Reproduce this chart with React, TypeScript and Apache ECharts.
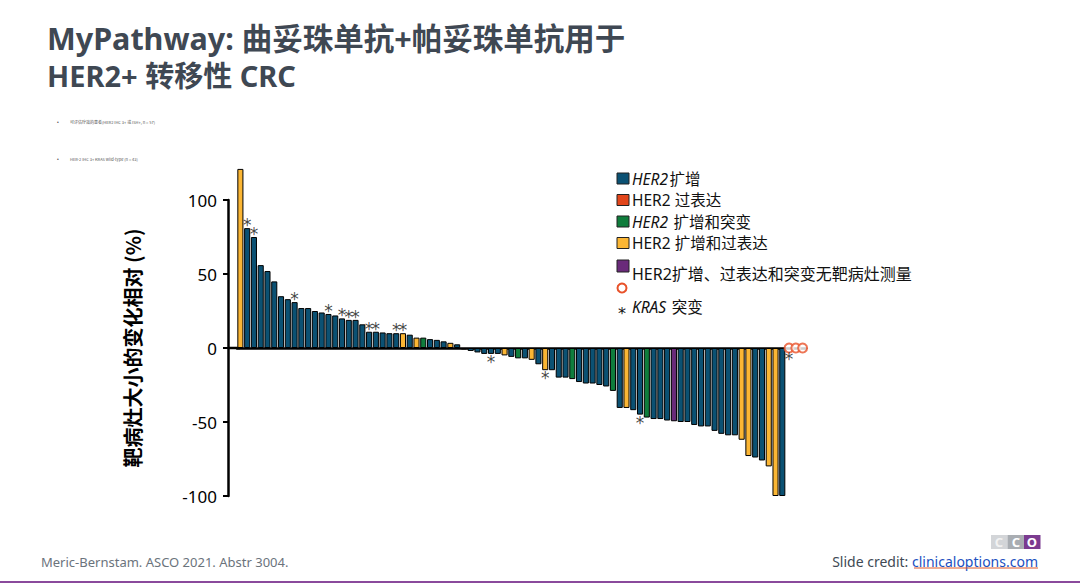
import React, { useEffect, useRef } from "react";
import * as echarts from "echarts";

// Change in target lesion size (%) per patient, sorted (waterfall). null = no target lesion measurement
const patientChange: (number | null)[] = [
  121, 81, 75, 56, 52, 45, 35, 33, 31, 27, 27, 25, 24, 23, 22, 20, 19, 19, 16, 11,
  11, 10.5, 10, 10, 10, 9, 7, 7, 6, 5.5, 4.5, 3.5, 2.5, -1, -2, -3, -4, -4, -4, -5,
  -6, -7, -7, -8, -11, -15, -15, -20, -20, -21, -23, -24, -24, -25, -26, -29, -40.5, -40.5, -42, -45,
  -47, -48, -48, -49, -49.5, -50, -50, -52, -53, -53, -56, -58, -59, -59, -62, -73, -74, -76, -80, -100,
  -100, null, null, null,
];

// A = HER2 amplification, O = HER2 overexpression, M = amplification + mutation,
// Y = amplification + overexpression, P = amp/overexp/mutation, N = no target lesion measured
const patientGroup: string[] = [
  "Y", "A", "A", "A", "A", "A", "A", "A", "A", "A", "A", "A", "A", "A", "A", "A", "A", "A", "A", "A",
  "A", "A", "A", "A", "Y", "A", "Y", "M", "A", "A", "A", "Y", "A", "A", "A", "A", "A", "A", "A", "Y",
  "A", "M", "A", "Y", "A", "Y", "A", "A", "A", "M", "A", "A", "A", "A", "A", "M", "A", "Y", "A", "A",
  "M", "A", "A", "A", "P", "A", "A", "A", "A", "A", "A", "A", "A", "A", "Y", "Y", "A", "A", "Y", "Y",
  "A", "N", "N", "N",
];

// patients (1-based) with KRAS mutation
const krasMutated: number[] = [2, 3, 9, 14, 16, 17, 18, 20, 21, 24, 25, 38, 46, 60, 82];

const yTicks = { min: -100, max: 100, interval: 50 };

// legend rows: [italic part, regular part]
const legendItems = [
  { key: "A", italic: "HER2", rest: "扩增" },
  { key: "O", italic: "", rest: "HER2 过表达" },
  { key: "M", italic: "HER2", rest: " 扩增和突变" },
  { key: "Y", italic: "", rest: "HER2 扩增和过表达" },
];
const legendPurpleText = "HER2扩增、过表达和突变无靶病灶测量";
const legendKras = { italic: "KRAS", rest: " 突变" };

const titleLines = ["MyPathway: 曲妥珠单抗+帕妥珠单抗用于", "HER2+ 转移性 CRC"];
const yAxisName = "靶病灶大小的变化相对 (%)";
const footnote = "Meric-Bernstam. ASCO 2021. Abstr 3004.";
const bulletTexts = ["可评估疗效的患者(HER2 IHC 3+ 或 ISH+, n = 57)", "HER-2 IHC 3+ KRAS wild-type (n = 43)"];

const COLORS: Record<string, string> = {
  A: "#0b5173",
  O: "#e2461b",
  M: "#0f7d3c",
  Y: "#fbb634",
  P: "#6a2a7a",
};
const CIRCLE = "#e8522a";
const FONT = "'Noto Sans', 'Noto Sans CJK SC', sans-serif";
const CJK = "'Noto Sans CJK SC', 'Noto Sans', sans-serif";
const LEG_SIZE = 15.5;

function measure(text: string, font: string): number {
  const c = document.createElement("canvas");
  const ctx = c.getContext("2d");
  if (!ctx) return text.length * 9;
  ctx.font = font;
  return ctx.measureText(text).width;
}

export default function App() {
  const ref = useRef<HTMLDivElement>(null);
  useEffect(() => {
    if (!ref.current) return;
    const chart = echarts.init(ref.current, undefined, { renderer: "svg" });
    const categories = patientChange.map((_, i) => String(i + 1));

    const barData = patientChange.map((v, i) =>
      v === null
        ? null
        : { value: v, itemStyle: { color: COLORS[patientGroup[i]] || COLORS.A } }
    );
    const circleData = patientChange
      .map((v, i) => (patientGroup[i] === "N" ? [categories[i], 0] : null))
      .filter((d) => d !== null);
    const krasData = krasMutated.map((p) => {
      const v = patientChange[p - 1];
      const val = v === null ? 0 : v;
      const below = v === null || val < 0;
      return {
        value: [categories[p - 1], val],
        label: {
          position: below ? "bottom" : "top",
          distance: v === null ? 2 : below ? -1 : -6,
        },
      };
    });

    const italicFont = `italic ${LEG_SIZE}px ${FONT}`;
    const legendGraphics: any[] = [];
    const rowY = [178.5, 200, 221.5, 243];
    const addMixed = (x: number, y: number, italic: string, rest: string) => {
      let cx = x;
      if (italic) {
        legendGraphics.push({
          type: "text",
          x: cx,
          y,
          style: { text: italic, fontSize: LEG_SIZE, lineHeight: 17, fontStyle: "italic", fontFamily: FONT, fill: "#111", verticalAlign: "middle" },
        });
        cx += measure(italic, italicFont) + 1.5;
      }
      legendGraphics.push({
        type: "text",
        x: cx,
        y,
        style: { text: rest, fontSize: LEG_SIZE, lineHeight: 17, fontFamily: FONT, fill: "#111", verticalAlign: "middle" },
      });
    };
    legendItems.forEach((it, k) => {
      legendGraphics.push({
        type: "rect",
        shape: { x: 617, y: rowY[k] - 5.5, width: 12, height: 11 },
        style: { fill: COLORS[it.key], stroke: "#222", lineWidth: 1 },
      });
      addMixed(632, rowY[k], it.italic, it.rest);
    });
    legendGraphics.push(
      {
        type: "rect",
        shape: { x: 617, y: 260, width: 12, height: 12 },
        style: { fill: COLORS.P, stroke: "#222", lineWidth: 1 },
      },
      {
        type: "text",
        x: 632,
        y: 274,
        style: { text: legendPurpleText, fontSize: 16, lineHeight: 17, fontFamily: FONT, fill: "#111", verticalAlign: "middle" },
      },
      {
        type: "circle",
        shape: { cx: 622, cy: 288, r: 4.5 },
        style: { fill: "#fff", stroke: CIRCLE, lineWidth: 2 },
      },
      {
        type: "text",
        x: 622,
        y: 313,
        style: { text: "*", fontSize: 16, lineHeight: 16, fontFamily: "'DejaVu Sans'", fill: "#111", align: "center", verticalAlign: "middle" },
      }
    );
    addMixed(632, 307, legendKras.italic, legendKras.rest);

    const option: any = {
      animation: false,
      backgroundColor: "#ffffff",
      grid: { left: 237, right: 274, top: 200, bottom: 92, containLabel: false },
      xAxis: {
        type: "category",
        data: categories,
        axisLine: { onZero: true, lineStyle: { color: "#000", width: 2.5 } },
        axisTick: { show: false },
        axisLabel: { show: false },
        splitLine: { show: false },
      },
      yAxis: {
        type: "value",
        min: yTicks.min,
        max: yTicks.max,
        interval: yTicks.interval,
        offset: 9,
        name: yAxisName,
        nameLocation: "middle",
        nameRotate: 90,
        nameGap: 86,
        nameTextStyle: { fontSize: 20, fontWeight: "bold", color: "#000", fontFamily: CJK },
        axisLine: { show: true, lineStyle: { color: "#000", width: 2.5 } },
        axisTick: { show: true, length: 5, lineStyle: { color: "#000", width: 2 } },
        axisLabel: { fontSize: 17, color: "#000", margin: 11, fontFamily: FONT },
        splitLine: { show: false },
      },
      series: [
        {
          type: "bar",
          data: barData,
          barCategoryGap: "10%",
          clip: false,
          itemStyle: { borderColor: "#000", borderWidth: 1 },
        },
        {
          type: "scatter",
          data: circleData,
          symbol: "emptyCircle",
          symbolSize: 9,
          z: 5,
          itemStyle: { color: CIRCLE, borderColor: CIRCLE, borderWidth: 2 },
        },
        {
          type: "scatter",
          data: krasData,
          symbolSize: 1,
          z: 6,
          itemStyle: { color: "rgba(0,0,0,0)" },
          label: {
            show: true,
            formatter: "*",
            fontSize: 17,
            color: "#111",
            fontFamily: "'DejaVu Sans'",
          },
        },
      ],
      graphic: [
        {
          type: "line",
          shape: { x1: 228, y1: 348, x2: 240, y2: 348 },
          style: { stroke: "#000", lineWidth: 2.5 },
        },
        {
          type: "text",
          x: 47,
          y: 38,
          style: { text: titleLines[0], fontSize: 30.5, fontWeight: "bold", fontFamily: FONT, fill: "#3f4853", verticalAlign: "middle" },
        },
        {
          type: "text",
          x: 47,
          y: 75,
          style: { text: titleLines[1], fontSize: 29, fontWeight: "bold", fontFamily: FONT, fill: "#3f4853", verticalAlign: "middle" },
        },
        {
          type: "text",
          x: 57,
          y: 122,
          style: { text: "•", fontSize: 5, fill: "#555", verticalAlign: "middle" },
        },
        {
          type: "text",
          x: 70,
          y: 122,
          style: { text: bulletTexts[0], fontSize: 4, fill: "#555", fontFamily: CJK, verticalAlign: "middle" },
        },
        {
          type: "text",
          x: 57,
          y: 159,
          style: { text: "•", fontSize: 5, fill: "#555", verticalAlign: "middle" },
        },
        {
          type: "text",
          x: 70,
          y: 159,
          style: { text: bulletTexts[1], fontSize: 4, fill: "#555", fontFamily: CJK, verticalAlign: "middle" },
        },
        ...legendGraphics,
        {
          type: "text",
          x: 41,
          y: 562,
          style: { text: footnote, fontSize: 13, fill: "#6b737c", fontFamily: FONT, verticalAlign: "middle" },
        },
        {
          type: "text",
          x: 1038,
          y: 561,
          style: {
            text: "{a|Slide credit: }{b|clinicaloptions.com}",
            align: "right",
            verticalAlign: "middle",
            rich: {
              a: { fontSize: 14, fill: "#404954", fontFamily: FONT },
              b: { fontSize: 14, fill: "#1b4fc0", fontFamily: FONT },
            },
          },
        },
        {
          type: "line",
          shape: { x1: 914, y1: 568, x2: 1038, y2: 568 },
          style: { stroke: "#e05a2a", lineWidth: 1.2 },
        },
        { type: "rect", shape: { x: 991, y: 535, width: 16.5, height: 14 }, style: { fill: "#d3d5d8" } },
        { type: "rect", shape: { x: 1007.5, y: 535, width: 16.5, height: 14 }, style: { fill: "#a9adb2" } },
        { type: "rect", shape: { x: 1024, y: 535, width: 16.5, height: 14 }, style: { fill: "#7b3b90" } },
        {
          type: "text",
          x: 999,
          y: 542,
          style: { text: "C", fontSize: 13, fontWeight: "bold", fill: "#f2f2f2", fontFamily: FONT, align: "center", verticalAlign: "middle" },
        },
        {
          type: "text",
          x: 1016,
          y: 542,
          style: { text: "C", fontSize: 13, fontWeight: "bold", fill: "#ffffff", fontFamily: FONT, align: "center", verticalAlign: "middle" },
        },
        {
          type: "text",
          x: 1032,
          y: 542,
          style: { text: "O", fontSize: 13, fontWeight: "bold", fill: "#ffffff", fontFamily: FONT, align: "center", verticalAlign: "middle" },
        },
        {
          type: "rect",
          shape: { x: 0, y: 581, width: 1080, height: 2 },
          style: { fill: "#8a4a9c" },
        },
      ],
    };
    chart.setOption(option);
    return () => chart.dispose();
  }, []);
  return (
    <div
      ref={ref}
      style={{ position: "fixed", left: 0, top: 0, width: 1080, height: 588, background: "#fff" }}
    />
  );
}
